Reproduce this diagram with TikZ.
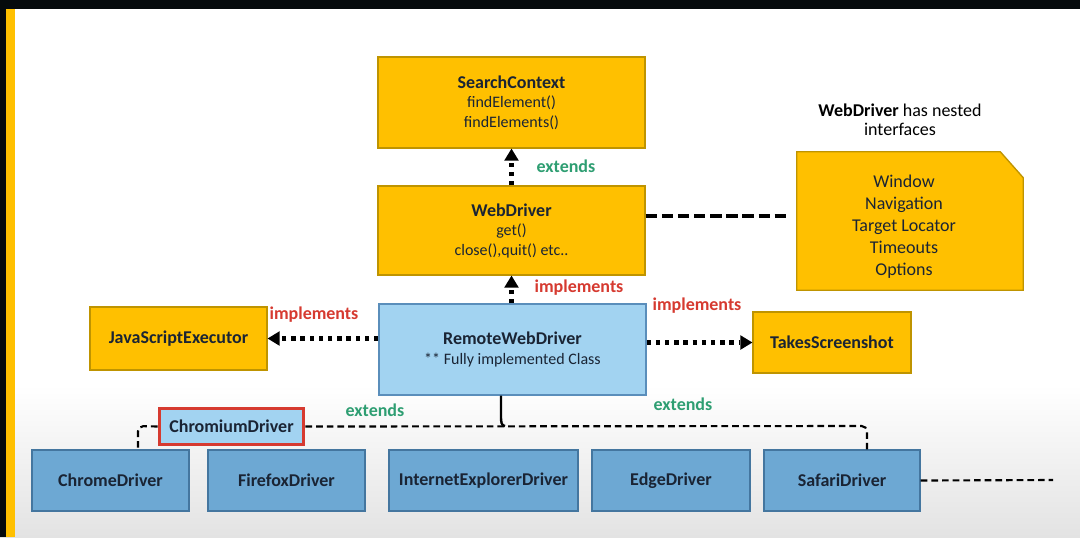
\documentclass[tikz,border=0pt]{standalone}
\usepackage{fontspec}
\setmainfont{Carlito}
\usetikzlibrary{arrows.meta,calc}
\definecolor{gold}{HTML}{FFC000}
\definecolor{goldline}{HTML}{BF9400}
\definecolor{lblue}{HTML}{A2D3F1}
\definecolor{lblueline}{HTML}{5A8EBB}
\definecolor{dblue}{HTML}{6DA8D3}
\definecolor{dblueline}{HTML}{44769F}
\definecolor{txt}{HTML}{1A2434}
\definecolor{grn}{HTML}{2E9E72}
\definecolor{redl}{HTML}{D63A30}
\definecolor{barc}{HTML}{FFC000}
\definecolor{blk}{HTML}{050A0C}
\begin{document}
\begin{tikzpicture}[x=0.75pt,y=-0.75pt,
  box/.style={draw, line width=1pt, inner sep=0pt, align=center, text=txt,
    font=\fontsize{12}{14.6}\selectfont},
  goldbox/.style={box, fill=gold, draw=goldline},
  lbox/.style={box, fill=lblue, draw=lblueline},
  dbox/.style={box, fill=dblue, draw=dblueline, minimum height=45.75pt, font=\fontsize{13.5}{16}\selectfont\bfseries},
  nm/.style={font=\fontsize{13.5}{16}\selectfont\bfseries},
  lblg/.style={text=grn, font=\fontsize{13.5}{16}\selectfont\bfseries, inner sep=0pt},
  lblr/.style={text=redl, font=\fontsize{13.5}{16}\selectfont\bfseries, inner sep=0pt},
  dotarrow/.style={line width=3.3pt, dash pattern=on 3.3pt off 3.6pt, black,
    -{Triangle[width=11pt,length=9pt,line width=0pt,sep=0pt]}},
  dline/.style={line width=2.6pt, dash pattern=on 8.5pt off 3.6pt, black},
  bus/.style={line width=1.6pt, dash pattern=on 5pt off 3pt, black, rounded corners=4pt},
]
% canvas
\useasboundingbox (0,0) rectangle (1080,537);
\fill[white] (0,0) rectangle (1080,537);
\shade[top color=white, bottom color=black!11] (0,385) rectangle (1080,537);
\fill[blk] (0,0) rectangle (1080,9);
\fill[blk] (0,9) rectangle (6,537);
\fill[barc] (6,9) rectangle (15,537);

% boxes
\node[goldbox, minimum width=200.25pt, minimum height=68.25pt] (sc) at (511.5,102.5)
  {{\fontsize{13.5}{14.6}\selectfont\bfseries SearchContext}\\findElement()\\findElements()};
\node[goldbox, minimum width=200.25pt, minimum height=66.75pt] (wd) at (511.5,230.5)
  {{\fontsize{13.5}{14.6}\selectfont\bfseries WebDriver}\\get()\\close(),quit() etc..};
\node[lbox, minimum width=200.25pt, minimum height=68.25pt] (rwd) at (512.5,349.5)
  {{\fontsize{13.5}{15.5}\selectfont\bfseries RemoteWebDriver}\\** Fully implemented Class};
\node[goldbox, minimum width=132.75pt, minimum height=47.25pt, nm] (jse) at (178.5,338.5) {JavaScriptExecutor};
\node[goldbox, minimum width=118.5pt, minimum height=45.75pt, nm] (ts) at (832,342.5) {TakesScreenshot};

% nested interfaces note
\node[minimum width=169.5pt, minimum height=103.5pt, inner sep=0pt] (nested) at (910,221) {};
\fill[gold, draw=goldline, line width=1pt]
  (nested.north west) -- ($(nested.north east)+(-23,0)$) -- ($(nested.north east)+(0,26)$)
  -- (nested.south east) -- (nested.south west) -- cycle;
\node[align=center, text=txt, font=\fontsize{13.5}{16.5}\selectfont] (nestedtxt) at (904,227)
  {Window\\Navigation\\Target Locator\\Timeouts\\Options};
\node[align=center, text=black, font=\fontsize{13.5}{14.5}\selectfont] (note) at (900,119.5)
  {\textbf{WebDriver} has nested\\interfaces};

% drivers
\node[lbox, draw=redl, line width=2.4pt, minimum width=108.5pt, minimum height=27.5pt, nm] (chromium) at (231.5,426.5) {ChromiumDriver};
\node[dbox, minimum width=117.75pt] (chrome) at (110.5,480.5) {ChromeDriver};
\node[dbox, minimum width=117.75pt] (firefox) at (286.5,480.5) {FirefoxDriver};
\node[dbox, minimum width=141.75pt] (ie) at (483.5,480.5) {InternetExplorerDriver};
\node[dbox, minimum width=118.5pt] (edge) at (671,480.5) {EdgeDriver};
\node[dbox, minimum width=117pt] (safari) at (842,480.5) {SafariDriver};

% connectors: extends / implements
\draw[dotarrow] (wd.north) -- (sc.south);
\node[lblg] (l1) at (566,166) {extends};
\draw[dotarrow] (rwd.north -| wd.north) -- (wd.south);
\node[lblr] (l2) at (579,288) {implements};
\draw[dotarrow] (rwd.west |- jse.east) -- (jse.east);
\node[lblr] (l3) at (314,315) {implements};
\draw[dotarrow] (rwd.east |- ts.west) -- (ts.west);
\node[lblr] (l4) at (697,306) {implements};

% WebDriver -- nested note
\coordinate (nl) at (789,216);
\draw[dline] (wd.east |- nl) -- (nl);

% extends bus
\coordinate (bj) at (501,426);
\coordinate (cdrop) at (138,426);
\coordinate (sdrop) at (867,426);
\draw[line width=1.8pt] (rwd.south -| bj) -- ($(bj)+(0,-9)$) to[out=-90,in=180] ($(bj)+(4,0)$);
\draw[bus] (chromium.east) -- (sdrop) -- (sdrop |- safari.north);
\draw[bus] (chromium.west) -- (cdrop) -- (cdrop |- chrome.north);
\node[lblg] (l5) at (375,410) {extends};
\node[lblg] (l6) at (683,404) {extends};
\coordinate (tail) at (1053,480);
\draw[bus] (safari.east) -- (tail);
\end{tikzpicture}
\end{document}
